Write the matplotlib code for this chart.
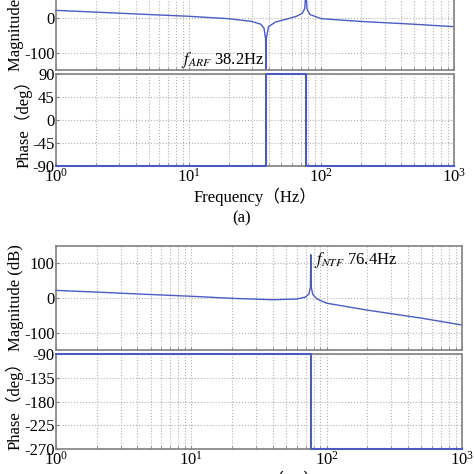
import numpy as np
import matplotlib
matplotlib.use("Agg")
import matplotlib.pyplot as plt

plt.rcParams['font.family'] = ['Liberation Serif', 'Noto Sans CJK SC', 'DejaVu Serif']
plt.rcParams['mathtext.fontset'] = 'stix'
plt.rcParams['axes.unicode_minus'] = False

# (a) ARF
a_freq = [1, 2, 5, 10, 20, 30, 35, 37, 38.0, 38.2, 38.4, 40, 45, 55, 65, 72, 75, 76.2, 76.4, 76.6, 78, 82, 100, 200, 500, 1000]
a_mag = [22, 17, 10, 5, -2, -10, -18, -30, -60, -200, -60, -25, -12, -3, 5, 14, 28, 70, 200, 70, 25, 10, -2, -10, -18, -25]
a_ph_freq = [1, 38.2, 38.2, 76.4, 76.4, 1000]
a_phase = [-90, -90, 90, 90, -90, -90]

# (b) NTF
b_freq = [1, 2, 5, 10, 20, 40, 60, 70, 74, 75.8, 76.4, 77.0, 79, 85, 100, 200, 500, 1000]
b_mag = [22, 17, 10, 5, -1, -5, -3, 3, 12, 30, 125, 30, 10, -3, -15, -35, -58, -78]
b_ph_freq = [1, 76.4, 76.4, 1000]
b_phase = [-90, -90, -270, -270]

W = 474
fig = plt.figure(figsize=(4.74, 4.74), dpi=100)

def ax_at(x0, y0, x1, y1):
    # pixel box, y from top
    return fig.add_axes([x0 / W, 1 - y1 / W, (x1 - x0) / W, (y1 - y0) / W])

color = '#4a5cc4'

def style(ax, xlab):
    ax.set_xscale('log')
    ax.set_xlim(1, 1000)
    ax.grid(True, which='both', linestyle=':', color='#b0b0b0', linewidth=0.8)
    for s in ax.spines.values():
        s.set_color('#808080')
        s.set_linewidth(1.2)
    ax.tick_params(labelsize=12, length=2, direction='in', color='#808080', which='both', pad=1)
    if not xlab:
        ax.tick_params(labelbottom=False, which='both')

# top
m1 = ax_at(56, -34, 454, 70)
m1.plot(a_freq, a_mag, color=color, lw=1)
m1.set_ylim(-150, 150)
m1.set_yticks([-100, 0, 100])
m1.set_ylabel('Magnitude (dB)', fontsize=12, labelpad=0)
style(m1, False)
m1.text(37.5, -122, r'$f_{ARF}$ 38.2Hz', fontsize=12, ha='right', va='center')

p1 = ax_at(56, 74, 454, 166)
p1.plot(a_ph_freq, a_phase, color=color, lw=1.5, clip_on=False, zorder=5)
p1.set_ylim(-90, 90)
p1.set_yticks([-90, -45, 0, 45, 90])
p1.set_ylabel('Phase（deg）', fontsize=12, labelpad=0)
style(p1, True)
p1.set_xlabel('Frequency（Hz）', fontsize=12, labelpad=2)
fig.text(242 / W, 1 - 218 / W, '(a)', fontsize=12, ha='center', va='center')

# bottom
m2 = ax_at(56, 246, 462, 350)
m2.plot(b_freq, b_mag, color=color, lw=1)
m2.set_ylim(-150, 150)
m2.set_yticks([-100, 0, 100])
m2.set_ylabel('Magnitude (dB)', fontsize=12, labelpad=0)
style(m2, False)
m2.text(80, 110, r'$f_{NTF}$ 76.4Hz', fontsize=12, ha='left', va='center')

p2 = ax_at(56, 354, 462, 449)
p2.plot(b_ph_freq, b_phase, color=color, lw=1.5, clip_on=False, zorder=5)
p2.set_ylim(-270, -90)
p2.set_yticks([-270, -225, -180, -135, -90])
p2.set_ylabel('Phase（deg）', fontsize=12, labelpad=0)
style(p2, True)
p2.set_xlabel('Frequency（Hz）', fontsize=12, labelpad=2)

fig.savefig('out.png', dpi=100)
